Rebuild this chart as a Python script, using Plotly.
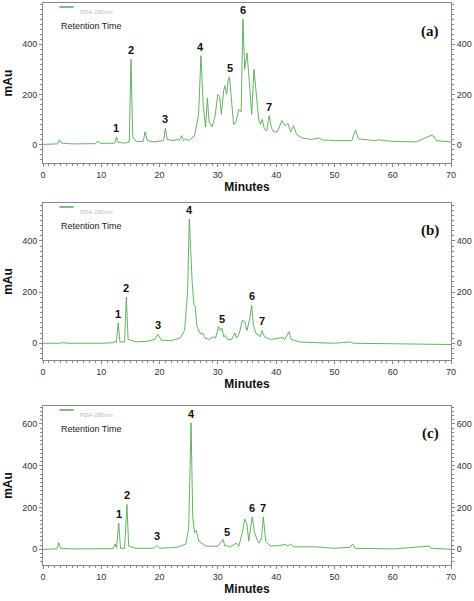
import plotly.graph_objects as go

# Panel (a) trace: retention time (min), absorbance (mAu)
a_t = [0,2.5,2.8,3.2,5,9,9.4,10,12.3,12.6,12.9,14,14.8,15.1,15.4,16,17.2,17.5,17.9,19,20.7,21.0,21.3,22.5,23,23.4,23.8,24.1,24.5,25,26,26.7,27.1,27.5,27.9,28.2,28.5,29,29.5,30,30.3,30.6,31,31.2,31.5,31.8,32,32.3,32.7,33.1,33.6,34,34.3,34.6,35,35.4,35.8,36.2,36.6,37,37.3,37.6,38,38.4,38.8,39.2,39.6,40.2,41,41.5,42,42.5,43,43.5,44.5,46,47.3,48,50,53,53.6,54.1,57,57.5,60,64,66.8,67.5,70]
a_v = [0,2,18,5,2,3,12,4,5,30,8,5,10,340,30,12,12,50,15,10,15,65,20,15,20,15,35,15,22,15,35,120,355,150,70,185,90,70,110,200,190,120,215,235,200,260,270,180,80,90,140,130,500,300,365,250,120,300,200,100,80,100,60,55,115,65,50,50,95,75,85,50,75,40,25,20,25,18,15,15,58,22,15,18,12,10,38,15,10]
a_peak_t = [12.6,15.1,21.0,27.1,32.0,34.3,38.8]
a_peak_v = [30,340,65,355,270,500,115]

b_t = [0,3,3.6,4,10,12,12.4,12.6,12.9,13.2,14,14.3,14.6,16,18,19.2,19.7,20.3,22,23.5,24.3,24.8,25.1,25.4,25.6,25.9,26.1,26.4,26.8,27.1,27.4,27.8,28.5,29.2,29.6,30.1,30.4,30.7,31,31.3,31.7,32.4,32.9,33.2,33.7,34.2,34.6,35,35.5,35.8,36.1,36.5,37,37.3,37.6,38,39,40,41,41.5,42.2,42.6,44,47,50,52.7,53.2,60,70]
b_v = [0,0,3,0,0,2,8,3,80,5,5,180,15,5,8,15,35,12,10,20,50,200,485,300,235,150,145,70,45,35,40,20,15,25,20,65,50,60,25,30,15,15,40,20,40,90,85,50,100,148,70,40,30,25,50,25,15,20,22,15,45,15,5,2,0,5,0,-2,-5]
b_peak_t = [12.9,14.3,19.7,25.1,30.7,35.8,37.6]
b_peak_v = [80,180,35,485,60,148,50]

c_t = [0,2.4,2.7,3,5,10,12,12.4,12.6,13,13.3,14,14.4,14.7,16,19,19.5,20,23,24.5,25,25.4,25.7,26,26.3,26.7,27.3,28,29,30,30.9,31.2,31.5,32,33.2,33.6,34.2,34.6,35,35.3,35.9,36.3,36.8,37.1,37.5,37.8,38.2,39,41,41.5,42,42.5,43,46.7,50,52.7,53.1,53.6,60,66.2,66.7,70]
c_v = [0,2,32,5,2,2,3,25,8,125,5,5,215,15,5,5,20,5,10,25,100,605,150,80,90,40,30,15,15,15,48,15,20,10,30,15,80,145,120,40,155,80,40,30,55,155,40,15,20,25,15,25,12,12,5,10,25,5,2,15,5,0]
c_peak_t = [13.0,14.4,19.5,25.4,31.6,35.9,37.8]
c_peak_v = [125,215,20,605,40,155,155]

peak_labels = ["1","2","3","4","5","6","7"]
panel_labels = ["(a)","(b)","(c)"]
y_ranges = [[-75,565],[-65,548],[-75,686]]
y_domains = [[0.715,1.0],[0.365,0.644],[0.0,0.283]]
GREEN = "#55a855"

fig = go.Figure()
panels = [(a_t,a_v,a_peak_t,a_peak_v),(b_t,b_v,b_peak_t,b_peak_v),(c_t,c_v,c_peak_t,c_peak_v)]
tickfont = dict(family="Arial", size=9, color="#333")
for i,(t,v,pt,pv) in enumerate(panels):
    n = i+1
    xa = "x" if n==1 else f"x{n}"
    ya = "y" if n==1 else f"y{n}"
    fig.add_trace(go.Scatter(x=t,y=v,mode="lines",line=dict(color=GREEN,width=0.9),
                             xaxis=xa,yaxis=ya,showlegend=False,hoverinfo="skip"))
    axcommon = dict(showline=True, linecolor="#888", linewidth=1, showgrid=False,
                    zeroline=False, ticks="outside", ticklen=3, tickcolor="#888",
                    tickfont=tickfont, automargin=False)
    fig.layout[f"xaxis{n if n>1 else ''}"] = dict(axcommon, domain=[0,1], anchor=ya, range=[0,70],
        dtick=10, mirror=True, minor=dict(ticks="outside", ticklen=2, dtick=1, tickcolor="#888"),
        title=dict(text="<b>Minutes</b>", font=dict(family="Arial", size=12, color="#111"), standoff=3))
    fig.layout[f"yaxis{n if n>1 else ''}"] = dict(axcommon, domain=y_domains[i], anchor=xa,
        range=y_ranges[i], dtick=200, mirror=True,
        minor=dict(ticks="outside", ticklen=2, dtick=20, tickcolor="#888"),
        title=dict(text="<b>mAu</b>", font=dict(family="Arial", size=12, color="#111"), standoff=6))
    fig.layout[f"yaxis{n+3}"] = dict(axcommon, overlaying=ya, side="right", anchor=xa,
        range=y_ranges[i], dtick=200, showline=False,
        minor=dict(ticks="outside", ticklen=2, dtick=20, tickcolor="#888"))
    fig.add_trace(go.Scatter(x=[None],y=[None],xaxis=xa,yaxis=f"y{n+3}",showlegend=False))
    for lab,x,y in zip(peak_labels,pt,pv):
        fig.add_annotation(x=x,y=y,xref=xa,yref=ya,text=f"<b>{lab}</b>",showarrow=False,
                           yshift=9,font=dict(family="Arial",size=11,color="#111"))
    xd = f"{xa} domain"; yd = f"{ya} domain"
    fig.add_annotation(x=0.975,y=0.89,xref=xd,yref=yd,text=f"<b>{panel_labels[i]}</b>",
                       showarrow=False,xanchor="right",font=dict(family="Times New Roman, Liberation Serif",size=15,color="#111"))
    fig.add_shape(type="line",xref=xd,yref=yd,x0=0.04,x1=0.075,y0=0.975,y1=0.975,
                  line=dict(color=GREEN,width=1.5))
    fig.add_annotation(x=0.085,y=0.975,xref=xd,yref=yd,text="PDA-280nm",showarrow=False,
                       xanchor="left",font=dict(family="Arial",size=6,color="#bbb"))
    fig.add_annotation(x=0.038,y=0.9,xref=xd,yref=yd,text="Retention Time",showarrow=False,
                       xanchor="left",font=dict(family="Arial",size=9,color="#222"))

fig.update_layout(width=474,height=601,margin=dict(l=43,r=23,t=3,b=36),
                  plot_bgcolor="white",paper_bgcolor="white")
fig.write_html("out.html", config={"displayModeBar": False},
               post_script="document.body.style.margin='0';document.body.style.overflow='hidden';")
